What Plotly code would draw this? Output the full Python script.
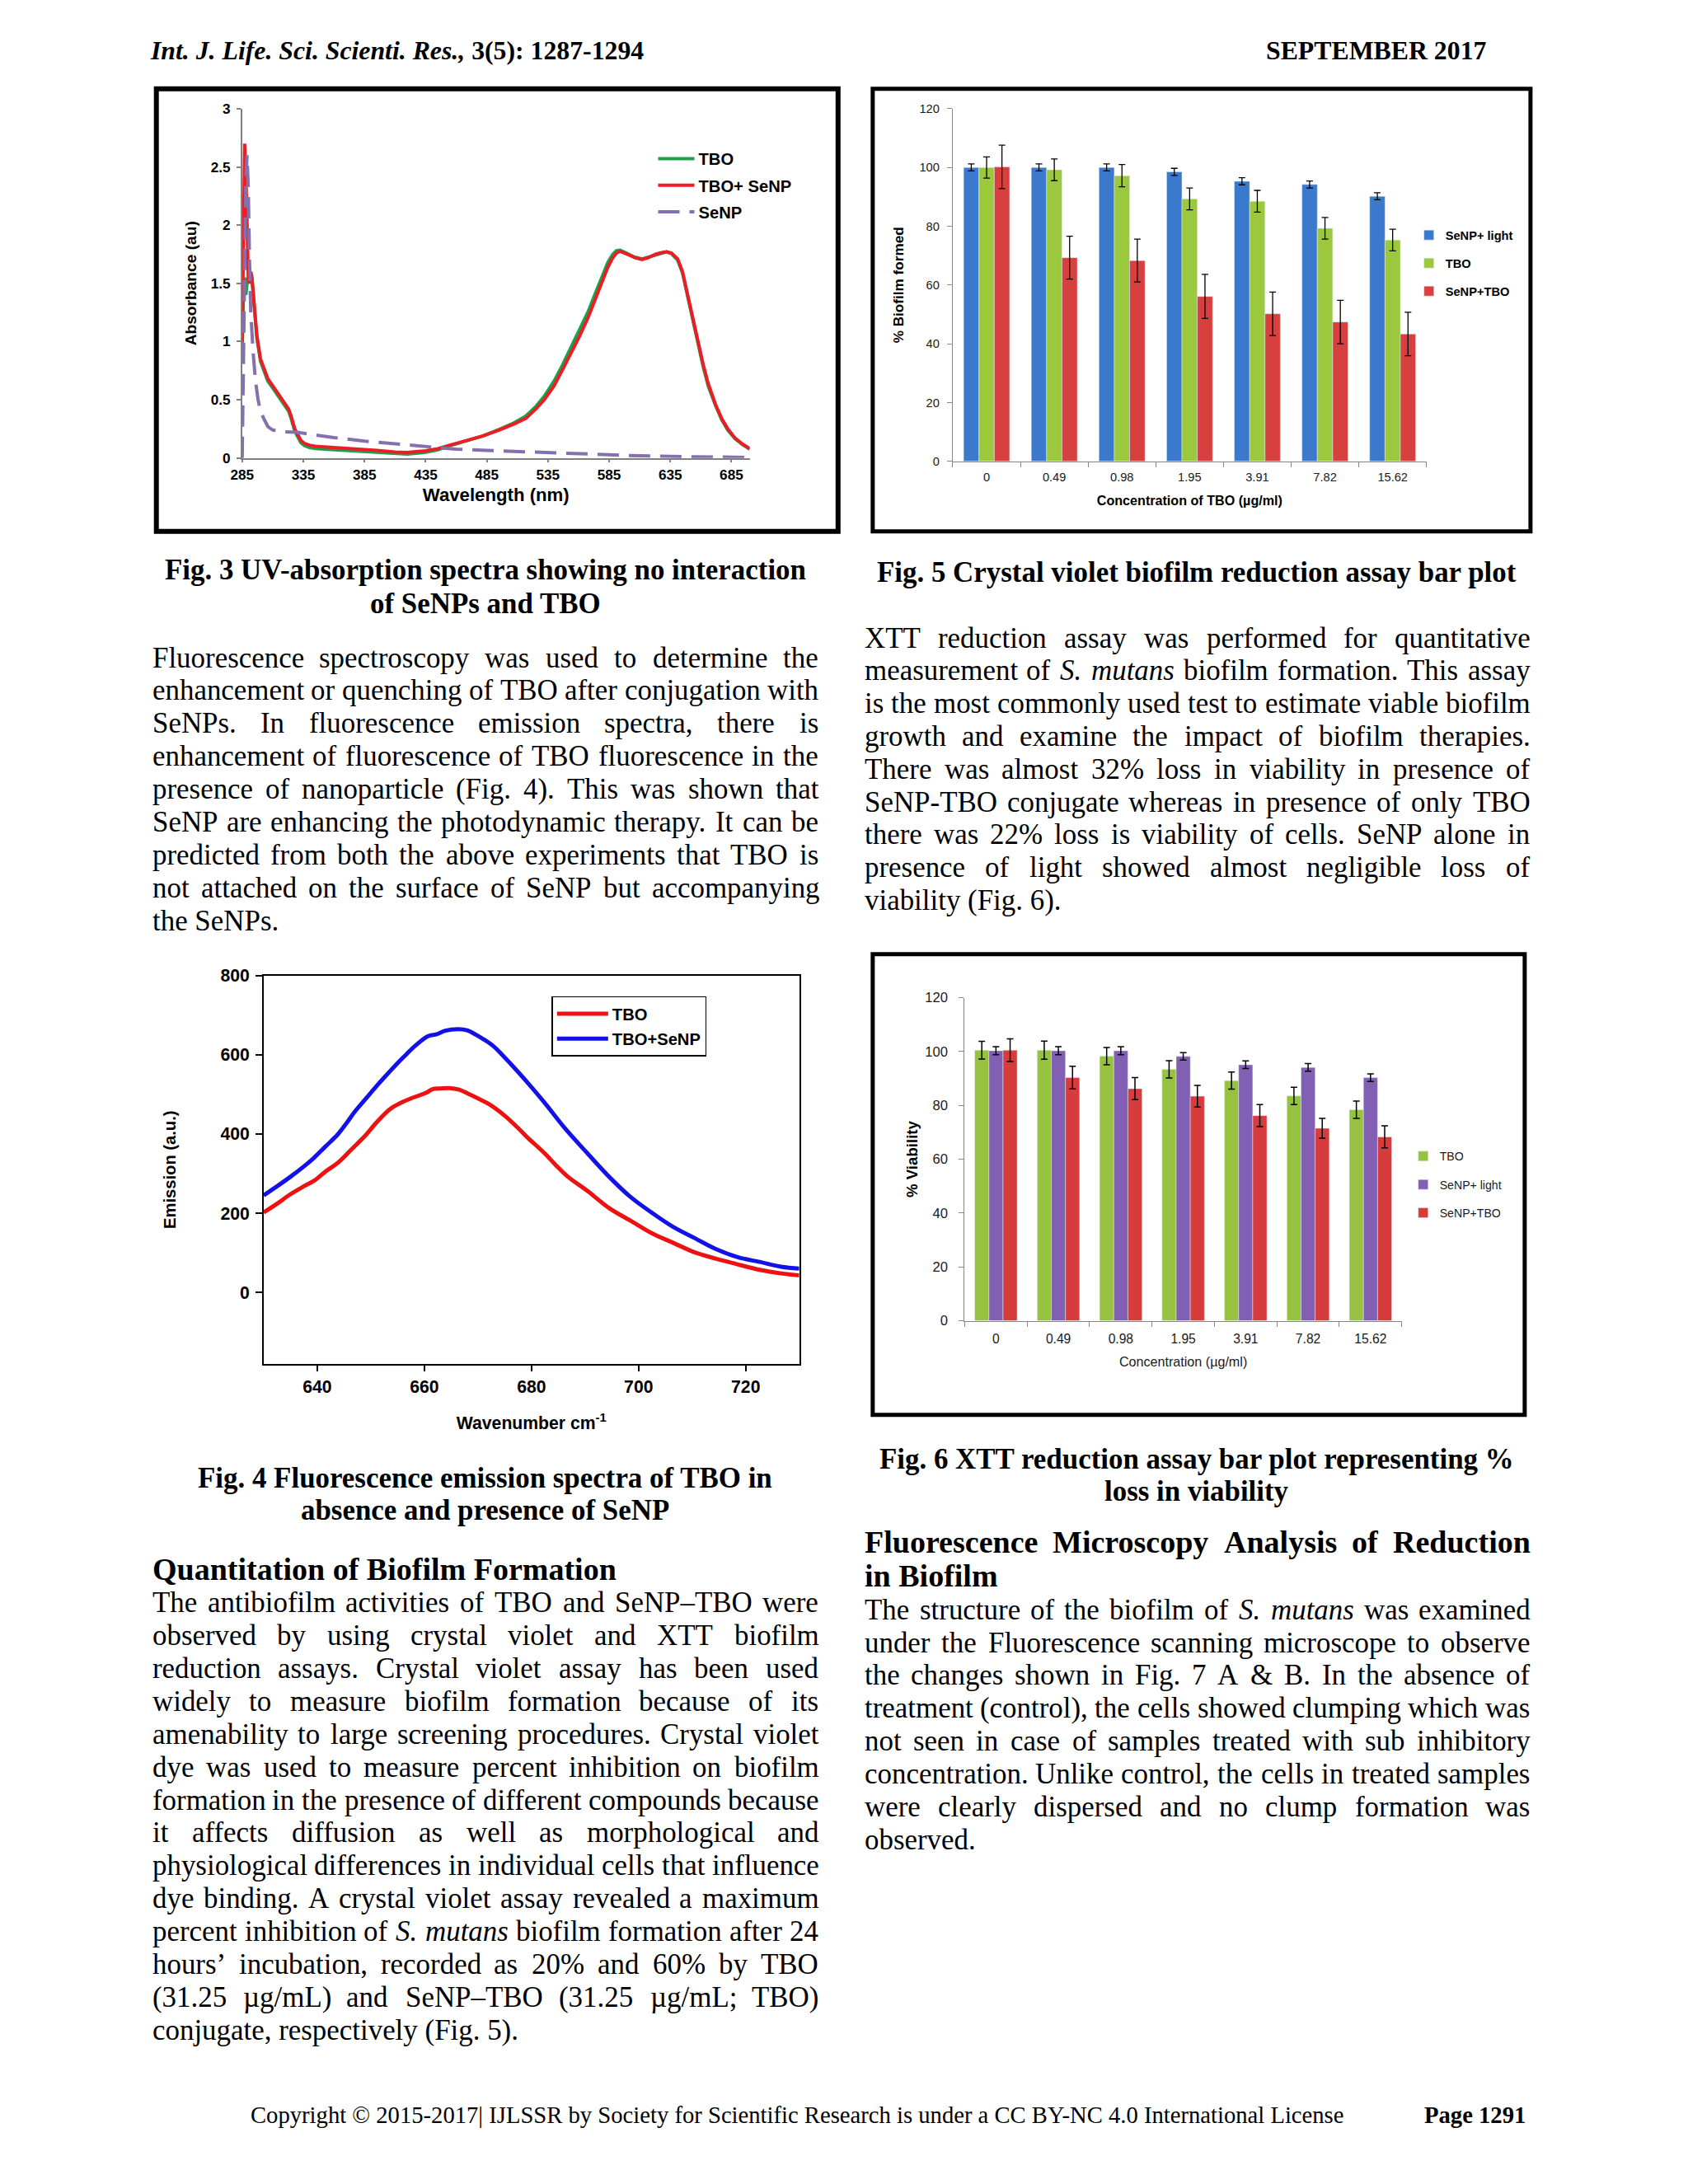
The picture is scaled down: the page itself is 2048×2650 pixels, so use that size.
import plotly.graph_objects as go

W, H = 2048, 2650

# ------------------------------------------------------------------ data
# Fig. 3  UV-absorption spectra
uv_wl = [285, 286, 287, 288, 289, 290, 291, 292, 293, 295, 297, 300, 303, 306, 310, 315, 320, 323, 325, 328,
         333, 336, 340, 345, 352, 360, 370, 384, 395, 410, 420, 435, 445, 453, 465, 482, 495, 507, 517, 525,
         532, 540, 547, 554, 561, 568, 574, 579, 584, 588, 591, 594, 597, 601, 606, 612, 617, 623, 628, 632,
         636, 641, 645, 648, 652, 657, 662, 666, 672, 677, 682, 688, 694, 700]
uv_abs_tbo_senp = [1.0, 2.2, 2.7, 2.45, 1.85, 1.55, 1.5, 1.6, 1.55, 1.3, 1.05, 0.85, 0.77, 0.68, 0.62, 0.54, 0.46, 0.42, 0.36, 0.25,
                   0.15, 0.125, 0.11, 0.1, 0.095, 0.09, 0.085, 0.075, 0.065, 0.05, 0.048, 0.062, 0.08, 0.105, 0.14, 0.19, 0.24, 0.29, 0.34, 0.42,
                   0.5, 0.62, 0.76, 0.9, 1.05, 1.21, 1.37, 1.51, 1.64, 1.72, 1.76, 1.775, 1.765, 1.745, 1.72, 1.705, 1.72, 1.75, 1.765, 1.77,
                   1.76, 1.71, 1.6, 1.46, 1.25, 1.02, 0.8, 0.64, 0.46, 0.34, 0.25, 0.17, 0.12, 0.08]
uv_abs_tbo = [0.9, 1.4, 1.55, 1.4, 1.5, 1.55, 1.5, 1.58, 1.53, 1.28, 1.03, 0.83, 0.75, 0.66, 0.6, 0.52, 0.44, 0.4, 0.34, 0.23,
              0.13, 0.105, 0.09, 0.08, 0.075, 0.07, 0.065, 0.058, 0.048, 0.035, 0.033, 0.048, 0.07, 0.1, 0.135, 0.19, 0.245, 0.3, 0.36, 0.44,
              0.53, 0.66, 0.8, 0.95, 1.1, 1.26, 1.42, 1.56, 1.68, 1.75, 1.78, 1.785, 1.77, 1.75, 1.725, 1.71, 1.725, 1.75, 1.765, 1.77,
              1.755, 1.7, 1.59, 1.45, 1.24, 1.0, 0.78, 0.62, 0.45, 0.33, 0.24, 0.165, 0.115, 0.075]
uv_wl_senp = [285, 286, 287, 288, 289, 290, 291, 292, 294, 296, 298, 300, 303, 306, 310, 315, 320, 330, 340, 360,
              385, 410, 435, 460, 485, 510, 535, 560, 585, 610, 635, 660, 685, 700]
uv_abs_senp = [0.0, 0.8, 1.8, 2.4, 2.6, 2.3, 1.7, 1.25, 0.9, 0.65, 0.5, 0.4, 0.33, 0.27, 0.24, 0.23, 0.225, 0.22, 0.205, 0.175,
               0.145, 0.12, 0.1, 0.075, 0.065, 0.055, 0.045, 0.035, 0.025, 0.018, 0.013, 0.009, 0.006, 0.005]
uv_xticks = [285, 335, 385, 435, 485, 535, 585, 635, 685]

# Fig. 4  Fluorescence emission spectra
fl_wn_tbo = [630, 632.6, 635, 637.5, 639.4, 641.5, 643.9, 646.3, 648.7, 651, 653.5, 655.5, 657.5, 660.3, 661.5, 663,
             664.7, 666.5, 668, 670, 672, 675.2, 677.5, 679.2, 682.4, 684.5, 686.8, 690.4, 694.5, 698.5, 702.5, 706.5,
             710.5, 714.5, 718.2, 722.6, 726.6, 730]
fl_em_tbo = [202, 225, 248, 268, 282, 305, 328, 360, 392, 428, 462, 478, 490, 504, 513, 515,
             516, 512, 503, 490, 476, 444, 415, 392, 352, 322, 292, 257, 213, 181, 149, 125,
             101, 85, 72, 57, 48, 43]
fl_wn_tbo_senp = [630, 632.5, 635, 637.5, 639.4, 641.5, 643.9, 645.5, 647, 649, 651, 653, 655, 656.7, 658.3, 660.7,
                  662.3, 663.9, 666.3, 668, 669.6, 671.2, 672.8, 674.4, 676, 679.2, 682.4, 686.4, 690.4, 694.5, 698.5,
                  702.5, 706.5, 710.5, 714.5, 718.5, 722.6, 726.6, 730]
fl_em_tbo_senp = [245, 268, 292, 318, 340, 368, 400, 428, 456, 488, 520, 550, 579, 602, 623, 647,
                  652, 661, 665, 662, 651, 638, 623, 602, 579, 531, 480, 412, 352, 292, 241,
                  201, 165, 137, 109, 89, 77, 65, 60]
fl_xticks = [640, 660, 680, 700, 720]
fl_yticks = [0, 200, 400, 600, 800]

# Fig. 5  Crystal violet assay
cv_conc = ["0", "0.49", "0.98", "1.95", "3.91", "7.82", "15.62"]
cv_senp_light = [100, 100, 100, 98.5, 95.3, 94.2, 90.2]
cv_senp_light_err = [1.2, 1.2, 1.2, 1.2, 1.2, 1.2, 1.2]
cv_tbo = [100, 99.2, 97.2, 89.3, 88.5, 79.3, 75.3]
cv_tbo_err = [3.6, 3.7, 3.8, 3.7, 3.7, 3.7, 3.7]
cv_senp_tbo = [100.2, 69.3, 68.3, 56.1, 50.2, 47.4, 43.3]
cv_senp_tbo_err = [7.4, 7.3, 7.3, 7.5, 7.4, 7.4, 7.4]

# Fig. 6  XTT assay
xtt_conc = ["0", "0.49", "0.98", "1.95", "3.91", "7.82", "15.62"]
xtt_tbo = [100.5, 100.5, 98.3, 93.4, 89.2, 83.5, 78.4]
xtt_tbo_err = [3.3, 3.4, 3.2, 3.2, 3.2, 3.2, 3.2]
xtt_senp_light = [100.3, 100.3, 100.3, 98.2, 95.1, 94.1, 90.3]
xtt_senp_light_err = [1.5, 1.5, 1.5, 1.4, 1.4, 1.4, 1.4]
xtt_senp_tbo = [100.5, 90.3, 86.2, 83.4, 76.2, 71.5, 68.3]
xtt_senp_tbo_err = [4.2, 4.2, 4.1, 4.0, 4.1, 3.7, 4.1]

# ------------------------------------------------------------------ page text
header_left = "<b><i>Int. J. Life. Sci. Scienti. Res.,</i> 3(5): 1287-1294</b>"
header_right = "SEPTEMBER 2017"
footer_left = "Copyright © 2015-2017| IJLSSR by Society for Scientific Research is under a CC BY-NC 4.0 International License"
footer_right = "Page 1291"

fig3_caption = ["Fig. 3 UV-absorption spectra showing no interaction", "of SeNPs and TBO"]
fig4_caption = ["Fig. 4 Fluorescence emission spectra of TBO in", "absence and presence of SeNP"]
fig5_caption = ["Fig. 5 Crystal violet biofilm reduction assay bar plot"]
fig6_caption = ["Fig. 6 XTT reduction assay bar plot representing %", "loss in viability"]
heading1 = ["Quantitation of Biofilm Formation"]
heading2 = ["Fluorescence Microscopy Analysis of Reduction", "in Biofilm"]

para1 = [
    "Fluorescence spectroscopy was used to determine the",
    "enhancement or quenching of TBO after conjugation with",
    "SeNPs. In fluorescence emission spectra, there is",
    "enhancement of fluorescence of TBO fluorescence in the",
    "presence of nanoparticle (Fig. 4). This was shown that",
    "SeNP are enhancing the photodynamic therapy. It can be",
    "predicted from both the above experiments that TBO is",
    "not attached on the surface of SeNP but accompanying",
    "the SeNPs.",
]
para2 = [
    "The antibiofilm activities of TBO and SeNP–TBO were",
    "observed by using crystal violet and XTT biofilm",
    "reduction assays. Crystal violet assay has been used",
    "widely to measure biofilm formation because of its",
    "amenability to large screening procedures. Crystal violet",
    "dye was used to measure percent inhibition on biofilm",
    "formation in the presence of different compounds because",
    "it affects diffusion as well as morphological and",
    "physiological differences in individual cells that influence",
    "dye binding. A crystal violet assay revealed a maximum",
    "percent inhibition of _S._ _mutans_ biofilm formation after 24",
    "hours’ incubation, recorded as 20% and 60% by TBO",
    "(31.25 µg/mL) and SeNP–TBO (31.25 µg/mL; TBO)",
    "conjugate, respectively (Fig. 5).",
]
para3 = [
    "XTT reduction assay was performed for quantitative",
    "measurement of _S._ _mutans_ biofilm formation. This assay",
    "is the most commonly used test to estimate viable biofilm",
    "growth and examine the impact of biofilm therapies.",
    "There was almost 32% loss in viability in presence of",
    "SeNP-TBO conjugate whereas in presence of only TBO",
    "there was 22% loss is viability of cells. SeNP alone in",
    "presence of light showed almost negligible loss of",
    "viability (Fig. 6).",
]
para4 = [
    "The structure of the biofilm of _S._ _mutans_ was examined",
    "under the Fluorescence scanning microscope to observe",
    "the changes shown in Fig. 7 A & B. In the absence of",
    "treatment (control), the cells showed clumping which was",
    "not seen in case of samples treated with sub inhibitory",
    "concentration. Unlike control, the cells in treated samples",
    "were clearly dispersed and no clump formation was",
    "observed.",
]

# ------------------------------------------------------------------ helpers
SERIF = "Liberation Serif, Times New Roman, serif"
SANS = "Liberation Sans, Arial, sans-serif"
LOWER = "abcdefghijklmnopqrstuvwxyz"
UPPER = "ABCDEFGHIJKLMNOPQRSTUVWXYZ"

# page-pixel -> figure-pixel calibration (compensates the page offset of the viewer)
KX, CX = 1.0082, 23.7
KY, CY = 1.0102, 19.5
FS = 1.009


def make_table(lower, upper, extra):
    t = dict(zip(LOWER, lower))
    t.update(zip(UPPER, upper))
    t.update({d: 500 for d in "0123456789"})
    t.update(extra)
    return t


ROMAN = make_table(
    [444, 500, 444, 500, 444, 333, 500, 500, 278, 278, 500, 278, 778, 500, 500, 500, 500, 333, 389, 278, 500, 500, 722, 500, 500, 444],
    [722, 667, 667, 722, 611, 556, 722, 722, 333, 389, 722, 611, 889, 722, 722, 556, 722, 667, 556, 611, 722, 722, 944, 722, 722, 611],
    {' ': 250, '.': 250, ',': 250, ':': 278, ';': 278, '(': 333, ')': 333, '-': 333, '–': 500, '%': 833,
     '&': 778, '’': 333, 'µ': 500, '/': 278, '|': 200, '©': 760})
BOLD = make_table(
    [500, 556, 444, 556, 444, 333, 500, 556, 278, 333, 556, 278, 833, 556, 500, 556, 556, 444, 389, 333, 556, 500, 722, 500, 500, 444],
    [722, 667, 722, 722, 667, 611, 778, 778, 389, 500, 778, 667, 944, 722, 778, 611, 778, 722, 556, 667, 722, 722, 1000, 722, 722, 667],
    {' ': 250, '.': 250, ',': 250, ':': 333, ';': 333, '(': 333, ')': 333, '-': 333, '–': 500, '%': 1000,
     '&': 833, '’': 333, 'µ': 556, '/': 278})
ITALIC = make_table(
    [500, 500, 444, 500, 444, 278, 500, 500, 278, 278, 444, 278, 722, 500, 500, 500, 500, 389, 389, 278, 500, 444, 667, 444, 444, 389],
    [611, 611, 667, 722, 611, 611, 722, 722, 333, 444, 667, 556, 833, 667, 722, 611, 722, 611, 500, 556, 722, 611, 833, 611, 556, 556],
    {' ': 250, '.': 250, ',': 250})


def fx(px):
    return (KX * px - CX) / W


def fy(py):
    return 1 - (KY * py - CY) / H


annotations = []


def add_text(px, py, text, size, xanchor="left", family=SERIF):
    annotations.append(dict(
        x=fx(px), y=fy(py), xref="paper", yref="paper", text=text, showarrow=False,
        xanchor=xanchor, yanchor="middle", borderpad=0, borderwidth=0,
        font=dict(family=family, size=size * FS, color="black")))


def esc(s):
    return s.replace("&", "&amp;")


def place_line(line, x0, x1, py, size, bold=False, justify=True):
    items = []
    for tok in line.split(" "):
        ital = len(tok) > 2 and tok.startswith("_") and tok.endswith("_")
        word = tok[1:-1] if ital else tok
        table = BOLD if bold else (ITALIC if ital else ROMAN)
        items.append((word, ital, sum(table.get(c, 500) for c in word) * size / 1000.0))
    space = 250 * size / 1000.0
    total = sum(w for _, _, w in items)
    if not justify:
        txt = []
        for word, ital, _ in items:
            t = esc(word)
            txt.append("<i>%s</i>" % t if ital else t)
        t = " ".join(txt)
        add_text(x0, py, "<b>%s</b>" % t if bold else t, size)
        return
    gap = (x1 - x0 - total) / (len(items) - 1) if len(items) > 1 else space
    x = x0
    for word, ital, w in items:
        t = esc(word)
        if ital:
            t = "<i>%s</i>" % t
        if bold:
            t = "<b>%s</b>" % t
        add_text(x, py, t, size)
        x += w + gap


def place_paragraph(lines, x0, x1, py0, dy, size, bold=False):
    for i, line in enumerate(lines):
        last = (i == len(lines) - 1)
        place_line(line, x0, x1, py0 + i * dy, size, bold, justify=not last)


def place_centered(lines, xc, py0, dy, size):
    for i, line in enumerate(lines):
        add_text(xc, py0 + i * dy, "<b>%s</b>" % esc(line), size, xanchor="center")


# ------------------------------------------------------------------ page text placement
BODY = 34.6
LCOL = (186, 993)
RCOL = (1049, 1855)

add_text(183, 61, header_left, 31.5)
add_text(1803, 61, "<b>%s</b>" % header_right, 31.5, xanchor="right")
add_text(305, 2561, footer_left, 28.4)
add_text(1850, 2561, "<b>%s</b>" % footer_right, 28.4, xanchor="right")

place_centered(fig3_caption, (LCOL[0] + LCOL[1]) / 2, 690, 40.5, BODY)
place_paragraph(para1, LCOL[0], LCOL[1], 796, 39.8, BODY)
place_centered(fig4_caption, (LCOL[0] + LCOL[1]) / 2, 1790, 39.0, BODY)
place_paragraph(heading1, LCOL[0], LCOL[1], 1900, 42, 37.7, bold=True)
place_paragraph(para2, LCOL[0], LCOL[1], 1940, 39.9, BODY)

place_centered(fig5_caption, (RCOL[0] + RCOL[1]) / 2, 693, 40, BODY)
place_paragraph(para3, RCOL[0], RCOL[1], 772, 39.75, BODY)
place_centered(fig6_caption, (RCOL[0] + RCOL[1]) / 2, 1767, 39.0, BODY)
place_paragraph(heading2, RCOL[0], RCOL[1], 1866.5, 41.5, 37.7, bold=True)
place_paragraph(para4, RCOL[0], RCOL[1], 1949, 39.8, BODY)

# ------------------------------------------------------------------ traces
fig = go.Figure()

# Fig 3
fig.add_trace(go.Scatter(x=uv_wl, y=uv_abs_tbo, mode="lines", name="TBO",
                         line=dict(color="#1BA14B", width=4), xaxis="x", yaxis="y",
                         legend="legend", legendgroup="g1"))
fig.add_trace(go.Scatter(x=uv_wl, y=uv_abs_tbo_senp, mode="lines", name="TBO+ SeNP",
                         line=dict(color="#EE1C24", width=4), xaxis="x", yaxis="y",
                         legend="legend", legendgroup="g2"))
fig.add_trace(go.Scatter(x=uv_wl_senp, y=uv_abs_senp, mode="lines", name="SeNP",
                         line=dict(color="#8470AE", width=4, dash="26px,12px"), xaxis="x", yaxis="y",
                         legend="legend", legendgroup="g3"))

# Fig 5
bar_err = dict(type="data", color="black", thickness=1.3, width=4)
fig.add_trace(go.Bar(x=cv_conc, y=cv_senp_light, name="SeNP+ light", marker=dict(color="#3A79CB"),
                     error_y=dict(bar_err, array=cv_senp_light_err), xaxis="x2", yaxis="y2",
                     legend="legend2", legendgroup="h1"))
fig.add_trace(go.Bar(x=cv_conc, y=cv_tbo, name="TBO", marker=dict(color="#9BC83C"),
                     error_y=dict(bar_err, array=cv_tbo_err), xaxis="x2", yaxis="y2",
                     legend="legend2", legendgroup="h2"))
fig.add_trace(go.Bar(x=cv_conc, y=cv_senp_tbo, name="SeNP+TBO", marker=dict(color="#D8403F"),
                     error_y=dict(bar_err, array=cv_senp_tbo_err), xaxis="x2", yaxis="y2",
                     legend="legend2", legendgroup="h3"))

# Fig 4
fig.add_trace(go.Scatter(x=fl_wn_tbo, y=fl_em_tbo, mode="lines", name="TBO",
                         line=dict(color="#EE1111", width=5, shape="spline", smoothing=1.0),
                         xaxis="x3", yaxis="y3", legend="legend3", legendgroup="k1"))
fig.add_trace(go.Scatter(x=fl_wn_tbo_senp, y=fl_em_tbo_senp, mode="lines", name="TBO+SeNP",
                         line=dict(color="#1212E8", width=5, shape="spline", smoothing=1.0),
                         xaxis="x3", yaxis="y3", legend="legend3", legendgroup="k2"))

# Fig 6
bar_err6 = dict(type="data", color="black", thickness=1.5, width=4)
fig.add_trace(go.Bar(x=xtt_conc, y=xtt_tbo, name="TBO", marker=dict(color="#97C23F"),
                     error_y=dict(bar_err6, array=xtt_tbo_err), xaxis="x4", yaxis="y4",
                     legend="legend4", legendgroup="m1"))
fig.add_trace(go.Bar(x=xtt_conc, y=xtt_senp_light, name="SeNP+ light", marker=dict(color="#8160B4"),
                     error_y=dict(bar_err6, array=xtt_senp_light_err), xaxis="x4", yaxis="y4",
                     legend="legend4", legendgroup="m2"))
fig.add_trace(go.Bar(x=xtt_conc, y=xtt_senp_tbo, name="SeNP+TBO", marker=dict(color="#D63C3C"),
                     error_y=dict(bar_err6, array=xtt_senp_tbo_err), xaxis="x4", yaxis="y4",
                     legend="legend4", legendgroup="m3"))


# ------------------------------------------------------------------ axes
def bfont(size, color="black", weight="bold"):
    return dict(family=SANS, size=size * FS, color=color, weight=weight)


GRAY = "#808080"
layout_axes = dict(
    # Fig 3
    xaxis=dict(domain=[fx(295), fx(910)], range=[285, 700], tickmode="array", tickvals=uv_xticks,
               ticks="outside", ticklen=4, tickwidth=1.5, tickcolor=GRAY, showline=True, linecolor=GRAY,
               linewidth=1.5, showgrid=False, zeroline=False, tickfont=bfont(17), ticklabelstandoff=0,
               title=dict(text="Wavelength (nm)", font=bfont(22), standoff=7), anchor="y"),
    yaxis=dict(domain=[fy(554), fy(131)], range=[0, 3], tickmode="linear", tick0=0, dtick=0.5,
               ticks="outside", ticklen=5, tickwidth=1.5, tickcolor=GRAY, showline=True, linecolor=GRAY,
               linewidth=1.5, showgrid=False, zeroline=False, tickfont=bfont(17), ticklabelstandoff=4,
               title=dict(text="Absorbance (au)", font=bfont(19), standoff=12), anchor="x"),
    # Fig 5
    xaxis2=dict(domain=[fx(1156), fx(1730)], type="category", categoryorder="array", categoryarray=cv_conc,
                tickson="boundaries", ticks="outside", ticklen=6, tickwidth=1.3, tickcolor="#868686",
                showline=True, linecolor="#868686", linewidth=1.3, showgrid=False, zeroline=False,
                tickfont=bfont(14.5, "#1a1a1a", "normal"), ticklabelstandoff=6,
                title=dict(text="Concentration of TBO (µg/ml)", font=bfont(16), standoff=15), anchor="y2"),
    yaxis2=dict(domain=[fy(558), fy(131)], range=[0, 120], tickmode="linear", tick0=0, dtick=20,
                ticks="outside", ticklen=6, tickwidth=1.3, tickcolor="#868686", showline=True,
                linecolor="#868686", linewidth=1.3, showgrid=False, zeroline=False,
                tickfont=bfont(14.5, "#1a1a1a", "normal"), ticklabelstandoff=6,
                title=dict(text="% Biofilm formed", font=bfont(17), standoff=14), anchor="x2"),
    # Fig 4
    xaxis3=dict(domain=[fx(321), fx(970)], range=[630, 730], tickmode="array", tickvals=fl_xticks,
                ticks="outside", ticklen=8, tickwidth=1.5, tickcolor="black", showline=True, mirror=True,
                linecolor="black", linewidth=1.5, showgrid=False, zeroline=False, tickfont=bfont(21),
                ticklabelstandoff=0,
                title=dict(text="Wavenumber cm<sup>-1</sup>", font=bfont(21), standoff=26), anchor="y3"),
    yaxis3=dict(domain=[fy(1651), fy(1181)], range=[-180, 800], tickmode="array", tickvals=fl_yticks,
                ticks="outside", ticklen=8, tickwidth=1.5, tickcolor="black", showline=True, mirror=True,
                linecolor="black", linewidth=1.5, showgrid=False, zeroline=False, tickfont=bfont(21),
                ticklabelstandoff=3,
                title=dict(text="Emission (a.u.)", font=bfont(20), standoff=48), anchor="x3"),
    # Fig 6
    xaxis4=dict(domain=[fx(1170.5), fx(1700)], type="category", categoryorder="array", categoryarray=xtt_conc,
                tickson="boundaries", ticks="outside", ticklen=6, tickwidth=1.3, tickcolor="#868686",
                showline=True, linecolor="#868686", linewidth=1.3, showgrid=False, zeroline=False,
                tickfont=bfont(15.5, "#1a1a1a", "normal"), ticklabelstandoff=8,
                title=dict(text="Concentration (µg/ml)", font=bfont(16, "#1a1a1a", "normal"), standoff=14),
                anchor="y4"),
    yaxis4=dict(domain=[fy(1599), fy(1207.7)], range=[0, 120], tickmode="linear", tick0=0, dtick=20,
                ticks="outside", ticklen=6, tickwidth=1.3, tickcolor="#868686", showline=True,
                linecolor="#868686", linewidth=1.3, showgrid=False, zeroline=False,
                tickfont=bfont(16.5, "#1a1a1a", "normal"), ticklabelstandoff=10,
                title=dict(text="% Viability", font=bfont(18.5), standoff=3), anchor="x4"),
)

legends = dict(
    legend=dict(x=fx(794), y=fy(172), xanchor="left", yanchor="top", font=bfont(20),
                bgcolor="rgba(0,0,0,0)", tracegroupgap=3, itemwidth=44),
    legend2=dict(x=fx(1713), y=fy(268), xanchor="left", yanchor="top", font=bfont(14.5),
                 bgcolor="rgba(0,0,0,0)", tracegroupgap=12),
    legend3=dict(x=fx(670), y=fy(1206), xanchor="left", yanchor="top", font=bfont(20),
                 bgcolor="white", bordercolor="black", borderwidth=1.5, tracegroupgap=1, itemwidth=62),
    legend4=dict(x=fx(1706), y=fy(1384), xanchor="left", yanchor="top", font=bfont(14, "#1a1a1a", "normal"),
                 bgcolor="rgba(0,0,0,0)", tracegroupgap=13),
)

frames = [
    dict(type="rect", xref="paper", yref="paper", x0=fx(191), x1=fx(1017), y0=fy(643), y1=fy(107),
         line=dict(color="black", width=6), fillcolor="rgba(0,0,0,0)", layer="above"),
    dict(type="rect", xref="paper", yref="paper", x0=fx(1059), x1=fx(1856), y0=fy(643), y1=fy(107),
         line=dict(color="black", width=5), fillcolor="rgba(0,0,0,0)", layer="above"),
    dict(type="rect", xref="paper", yref="paper", x0=fx(1059), x1=fx(1849), y0=fy(1713), y1=fy(1155),
         line=dict(color="black", width=5), fillcolor="rgba(0,0,0,0)", layer="above"),
]

fig.update_layout(
    width=W, height=H, autosize=False,
    margin=dict(l=0, r=0, t=0, b=0, pad=0),
    paper_bgcolor="white", plot_bgcolor="white",
    barmode="group", bargap=0.32, bargroupgap=0.0,
    showlegend=True,
    annotations=annotations,
    shapes=frames,
    **layout_axes,
    **legends,
)

fig.write_html("out.html")
